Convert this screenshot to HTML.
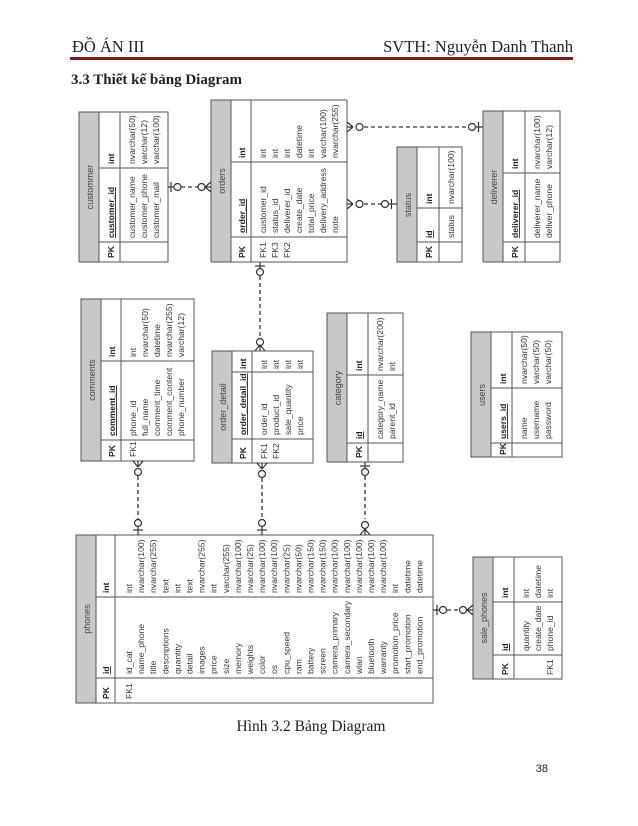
<!DOCTYPE html>
<html><head><meta charset="utf-8"><style>
html,body{margin:0;padding:0;background:#fff;}
svg{display:block;}
.t{font-family:"Liberation Sans",sans-serif;font-size:8.6px;fill:#333;}
.b{font-weight:bold;fill:#222;}
.h{font-family:"Liberation Sans",sans-serif;font-size:9px;fill:#444;}
.ln{stroke:#555;stroke-width:1;}
.c{stroke:#333;stroke-width:1.2;fill:none;}
.d{stroke:#333;stroke-width:1.3;stroke-dasharray:4,3;fill:none;}
</style></head><body>
<svg width="638" height="826" viewBox="0 0 638 826" xmlns="http://www.w3.org/2000/svg">
<text x="72" y="52" font-family="Liberation Serif,serif" font-size="16.5" fill="#222">ĐỒ ÁN III</text>
<text x="573" y="52" text-anchor="end" font-family="Liberation Serif,serif" font-size="16.5" fill="#222">SVTH: Nguyễn Danh Thanh</text>
<rect x="70" y="57" width="503" height="3" fill="#7a1c1c"/>
<text x="71" y="84" font-family="Liberation Serif,serif" font-size="15" font-weight="bold" fill="#222">3.3 Thiết kế bảng Diagram</text>

<!-- customer -->
<g transform="translate(79,262) rotate(-90)">
<rect x="0" y="0" width="150" height="89" fill="#fff" class="ln"/>
<rect x="0" y="0" width="150" height="20" fill="#c8c8c8" class="ln"/>
<line x1="0" y1="41" x2="150" y2="41" class="ln"/><line x1="20" y1="20" x2="20" y2="89" class="ln"/><line x1="94" y1="20" x2="94" y2="89" class="ln"/>
<text x="75" y="14" text-anchor="middle" class="h">custommer</text>
<text x="4" y="35" class="t b">PK</text><text x="24" y="35" class="t b" text-decoration="underline">customer_id</text><text x="98" y="35" class="t b">int</text>
<text x="24" y="56" class="t">customer_name</text><text x="98" y="56" class="t">nvarchar(50)</text>
<text x="24" y="68" class="t">customer_phone</text><text x="98" y="68" class="t">varchar(12)</text>
<text x="24" y="80" class="t">customer_mail</text><text x="98" y="80" class="t">varchar(100)</text>
</g>

<!-- orders -->
<g transform="translate(211,262) rotate(-90)">
<rect x="0" y="0" width="162" height="136" fill="#fff" class="ln"/>
<rect x="0" y="0" width="162" height="20" fill="#c8c8c8" class="ln"/>
<line x1="0" y1="40" x2="162" y2="40" class="ln"/><line x1="25" y1="20" x2="25" y2="136" class="ln"/><line x1="100" y1="20" x2="100" y2="136" class="ln"/>
<text x="81" y="14" text-anchor="middle" class="h">orders</text>
<text x="4" y="34" class="t b">PK</text><text x="29" y="34" class="t b" text-decoration="underline">order_id</text><text x="104" y="34" class="t b">int</text>
<text x="4" y="55" class="t">FK1</text><text x="29" y="55" class="t">customer_id</text><text x="104" y="55" class="t">int</text>
<text x="4" y="67" class="t">FK3</text><text x="29" y="67" class="t">status_id</text><text x="104" y="67" class="t">int</text>
<text x="4" y="79" class="t">FK2</text><text x="29" y="79" class="t">deliverer_id</text><text x="104" y="79" class="t">int</text>
<text x="29" y="91" class="t">create_date</text><text x="104" y="91" class="t">datetime</text>
<text x="29" y="103" class="t">total_price</text><text x="104" y="103" class="t">int</text>
<text x="29" y="115" class="t">delivery_address</text><text x="104" y="115" class="t">varchar(100)</text>
<text x="29" y="127" class="t">note</text><text x="104" y="127" class="t">nvarchar(255)</text>
</g>

<!-- status -->
<g transform="translate(397,262) rotate(-90)">
<rect x="0" y="0" width="115" height="65" fill="#fff" class="ln"/>
<rect x="0" y="0" width="115" height="20" fill="#c8c8c8" class="ln"/>
<line x1="0" y1="42" x2="115" y2="42" class="ln"/><line x1="20" y1="20" x2="20" y2="65" class="ln"/><line x1="54" y1="20" x2="54" y2="65" class="ln"/>
<text x="57" y="14" text-anchor="middle" class="h">status</text>
<text x="4" y="35" class="t b">PK</text><text x="24" y="35" class="t b" text-decoration="underline">id</text><text x="58" y="35" class="t b">int</text>
<text x="24" y="57" class="t">status</text><text x="58" y="57" class="t">nvarchar(100)</text>
</g>

<!-- deliverer -->
<g transform="translate(483,262) rotate(-90)">
<rect x="0" y="0" width="151" height="77" fill="#fff" class="ln"/>
<rect x="0" y="0" width="151" height="20" fill="#c8c8c8" class="ln"/>
<line x1="0" y1="42" x2="151" y2="42" class="ln"/><line x1="20" y1="20" x2="20" y2="77" class="ln"/><line x1="89" y1="20" x2="89" y2="77" class="ln"/>
<text x="75" y="14" text-anchor="middle" class="h">deliverer</text>
<text x="4" y="35" class="t b">PK</text><text x="24" y="35" class="t b" text-decoration="underline">deliverer_id</text><text x="93" y="35" class="t b">int</text>
<text x="24" y="57" class="t">deliverer_name</text><text x="93" y="57" class="t">nvarchar(100)</text>
<text x="24" y="69" class="t">deliver_phone</text><text x="93" y="69" class="t">varchar(12)</text>
</g>

<!-- comments -->
<g transform="translate(81,461) rotate(-90)">
<rect x="0" y="0" width="162" height="113" fill="#fff" class="ln"/>
<rect x="0" y="0" width="162" height="20" fill="#c8c8c8" class="ln"/>
<line x1="0" y1="40" x2="162" y2="40" class="ln"/><line x1="21" y1="20" x2="21" y2="113" class="ln"/><line x1="100" y1="20" x2="100" y2="113" class="ln"/>
<text x="81" y="14" text-anchor="middle" class="h">comments</text>
<text x="4" y="34" class="t b">PK</text><text x="25" y="34" class="t b" text-decoration="underline">comment_id</text><text x="104" y="34" class="t b">int</text>
<text x="4" y="55" class="t">FK1</text><text x="25" y="55" class="t">phone_id</text><text x="104" y="55" class="t">int</text>
<text x="25" y="67" class="t">full_name</text><text x="104" y="67" class="t">nvarchar(50)</text>
<text x="25" y="79" class="t">comment_time</text><text x="104" y="79" class="t">datetime</text>
<text x="25" y="91" class="t">comment_content</text><text x="104" y="91" class="t">nvarchar(255)</text>
<text x="25" y="103" class="t">phone_number</text><text x="104" y="103" class="t">varchar(12)</text>
</g>

<!-- order_detail -->
<g transform="translate(212,463) rotate(-90)">
<rect x="0" y="0" width="112" height="101" fill="#fff" class="ln"/>
<rect x="0" y="0" width="112" height="20" fill="#c8c8c8" class="ln"/>
<line x1="0" y1="40" x2="112" y2="40" class="ln"/><line x1="24" y1="20" x2="24" y2="101" class="ln"/><line x1="91" y1="20" x2="91" y2="101" class="ln"/>
<text x="56" y="14" text-anchor="middle" class="h">order_detail</text>
<text x="4" y="34" class="t b">PK</text><text x="28" y="34" class="t b" text-decoration="underline">order_detail_id</text><text x="94" y="34" class="t b">int</text>
<text x="4" y="55" class="t">FK1</text><text x="28" y="55" class="t">order_id</text><text x="94" y="55" class="t">int</text>
<text x="4" y="67" class="t">FK2</text><text x="28" y="67" class="t">product_id</text><text x="94" y="67" class="t">int</text>
<text x="28" y="79" class="t">sale_quantity</text><text x="94" y="79" class="t">int</text>
<text x="28" y="91" class="t">price</text><text x="94" y="91" class="t">int</text>
</g>

<!-- category -->
<g transform="translate(327,462) rotate(-90)">
<rect x="0" y="0" width="149" height="76" fill="#fff" class="ln"/>
<rect x="0" y="0" width="149" height="20" fill="#c8c8c8" class="ln"/>
<line x1="0" y1="41" x2="149" y2="41" class="ln"/><line x1="19" y1="20" x2="19" y2="76" class="ln"/><line x1="87" y1="20" x2="87" y2="76" class="ln"/>
<text x="74" y="14" text-anchor="middle" class="h">category</text>
<text x="4" y="35" class="t b">PK</text><text x="23" y="35" class="t b" text-decoration="underline">id</text><text x="91" y="35" class="t b">int</text>
<text x="23" y="56" class="t">category_name</text><text x="91" y="56" class="t">nvarchar(200)</text>
<text x="23" y="68" class="t">parent_id</text><text x="91" y="68" class="t">int</text>
</g>

<!-- users -->
<g transform="translate(471,457) rotate(-90)">
<rect x="0" y="0" width="125" height="91" fill="#fff" class="ln"/>
<rect x="0" y="0" width="125" height="20" fill="#c8c8c8" class="ln"/>
<line x1="0" y1="41" x2="125" y2="41" class="ln"/><line x1="14" y1="20" x2="14" y2="91" class="ln"/><line x1="69" y1="20" x2="69" y2="91" class="ln"/>
<text x="62" y="14" text-anchor="middle" class="h">users</text>
<text x="2" y="35" class="t b">PK</text><text x="18" y="35" class="t b" text-decoration="underline">users_id</text><text x="73" y="35" class="t b">int</text>
<text x="18" y="56" class="t">name</text><text x="73" y="56" class="t">nvarchar(50)</text>
<text x="18" y="68" class="t">username</text><text x="73" y="68" class="t">varchar(50)</text>
<text x="18" y="80" class="t">password</text><text x="73" y="80" class="t">varchar(50)</text>
</g>

<!-- phones -->
<g transform="translate(76,703) rotate(-90)">
<rect x="0" y="0" width="168" height="357" fill="#fff" class="ln"/>
<rect x="0" y="0" width="168" height="20" fill="#c8c8c8" class="ln"/>
<line x1="0" y1="39" x2="168" y2="39" class="ln"/><line x1="25" y1="20" x2="25" y2="357" class="ln"/><line x1="106" y1="20" x2="106" y2="357" class="ln"/>
<text x="84" y="14" text-anchor="middle" class="h">phones</text>
<text x="4" y="33" class="t b">PK</text><text x="29" y="33" class="t b" text-decoration="underline">id</text><text x="110" y="33" class="t b">int</text>
<text x="4" y="56" class="t">FK1</text>
<text x="29" y="56" class="t">id_cat</text><text x="110" y="56" class="t">int</text>
<text x="29" y="68.1" class="t">name_phone</text><text x="110" y="68.1" class="t">nvarchar(100)</text>
<text x="29" y="80.2" class="t">title</text><text x="110" y="80.2" class="t">nvarchar(255)</text>
<text x="29" y="92.3" class="t">descriptions</text><text x="110" y="92.3" class="t">text</text>
<text x="29" y="104.4" class="t">quantity</text><text x="110" y="104.4" class="t">int</text>
<text x="29" y="116.5" class="t">detail</text><text x="110" y="116.5" class="t">text</text>
<text x="29" y="128.6" class="t">images</text><text x="110" y="128.6" class="t">nvarchar(255)</text>
<text x="29" y="140.7" class="t">price</text><text x="110" y="140.7" class="t">int</text>
<text x="29" y="152.8" class="t">size</text><text x="110" y="152.8" class="t">varchar(255)</text>
<text x="29" y="164.9" class="t">memory</text><text x="110" y="164.9" class="t">nvarchar(100)</text>
<text x="29" y="177" class="t">weights</text><text x="110" y="177" class="t">nvarchar(25)</text>
<text x="29" y="189.1" class="t">color</text><text x="110" y="189.1" class="t">nvarchar(100)</text>
<text x="29" y="201.2" class="t">os</text><text x="110" y="201.2" class="t">nvarchar(100)</text>
<text x="29" y="213.3" class="t">cpu_speed</text><text x="110" y="213.3" class="t">nvarchar(25)</text>
<text x="29" y="225.4" class="t">ram</text><text x="110" y="225.4" class="t">nvarchar(50)</text>
<text x="29" y="237.5" class="t">battery</text><text x="110" y="237.5" class="t">nvarchar(150)</text>
<text x="29" y="249.6" class="t">screen</text><text x="110" y="249.6" class="t">nvarchar(150)</text>
<text x="29" y="261.7" class="t">camera_primary</text><text x="110" y="261.7" class="t">nvarchar(100)</text>
<text x="29" y="273.8" class="t">camera_secondary</text><text x="110" y="273.8" class="t">nvarchar(100)</text>
<text x="29" y="285.9" class="t">wlan</text><text x="110" y="285.9" class="t">nvarchar(100)</text>
<text x="29" y="298" class="t">bluetooth</text><text x="110" y="298" class="t">nvarchar(100)</text>
<text x="29" y="310.1" class="t">warranty</text><text x="110" y="310.1" class="t">nvarchar(100)</text>
<text x="29" y="322.2" class="t">promotion_price</text><text x="110" y="322.2" class="t">int</text>
<text x="29" y="334.3" class="t">start_promotion</text><text x="110" y="334.3" class="t">datetime</text>
<text x="29" y="346.4" class="t">end_promotion</text><text x="110" y="346.4" class="t">datetime</text>
</g>

<!-- sale_phones -->
<g transform="translate(473,679) rotate(-90)">
<rect x="0" y="0" width="122" height="89" fill="#fff" class="ln"/>
<rect x="0" y="0" width="122" height="20" fill="#c8c8c8" class="ln"/>
<line x1="0" y1="41" x2="122" y2="41" class="ln"/><line x1="24" y1="20" x2="24" y2="89" class="ln"/><line x1="77" y1="20" x2="77" y2="89" class="ln"/>
<text x="61" y="14" text-anchor="middle" class="h">sale_phones</text>
<text x="4" y="35" class="t b">PK</text><text x="28" y="35" class="t b" text-decoration="underline">id</text><text x="81" y="35" class="t b">int</text>
<text x="28" y="56" class="t">quantity</text><text x="81" y="56" class="t">int</text>
<text x="28" y="68" class="t">create_date</text><text x="81" y="68" class="t">datetime</text>
<text x="4" y="80" class="t">FK1</text><text x="28" y="80" class="t">phone_id</text><text x="81" y="80" class="t">int</text>
</g>

<!-- connectors -->
<!-- customer - orders -->
<line x1="181" y1="187" x2="198" y2="187" class="d"/>
<line x1="168" y1="187" x2="174" y2="187" class="c"/><line x1="171" y1="182" x2="171" y2="192" class="c"/><circle cx="177.5" cy="187" r="3.5" class="c"/>
<circle cx="201.5" cy="187" r="3.5" class="c"/><path d="M205 187 L211 187 M205 187 L211 182 M205 187 L211 192" class="c"/>
<!-- orders - deliverer -->
<line x1="364" y1="127" x2="468" y2="127" class="d"/>
<path d="M353 127 L347 127 M353 127 L347 122 M353 127 L347 132" class="c"/><circle cx="359.5" cy="127" r="3.5" class="c"/>
<circle cx="472" cy="127" r="3.5" class="c"/><line x1="476" y1="127" x2="483" y2="127" class="c"/><line x1="478.5" y1="122" x2="478.5" y2="132" class="c"/>
<!-- orders - status -->
<line x1="364" y1="204" x2="381" y2="204" class="d"/>
<path d="M353 204 L347 204 M353 204 L347 199 M353 204 L347 209" class="c"/><circle cx="359.5" cy="204" r="3.5" class="c"/>
<circle cx="385" cy="204" r="3.5" class="c"/><line x1="389" y1="204" x2="397" y2="204" class="c"/><line x1="391.5" y1="199" x2="391.5" y2="209" class="c"/>
<!-- orders - order_detail -->
<line x1="260" y1="276" x2="260" y2="338" class="d"/>
<line x1="260" y1="262" x2="260" y2="268" class="c"/><line x1="255" y1="266" x2="265" y2="266" class="c"/><circle cx="260" cy="272" r="3.5" class="c"/>
<circle cx="260" cy="342" r="3.5" class="c"/><path d="M260 345 L260 351 M260 345 L255 351 M260 345 L265 351" class="c"/>
<!-- comments - phones -->
<line x1="138" y1="476" x2="138" y2="519" class="d"/>
<path d="M138 467 L138 461 M138 467 L133 461 M138 467 L143 461" class="c"/><circle cx="138" cy="472" r="3.5" class="c"/>
<circle cx="138" cy="523" r="3.5" class="c"/><line x1="138" y1="527" x2="138" y2="535" class="c"/><line x1="133" y1="530" x2="143" y2="530" class="c"/>
<!-- order_detail - phones -->
<line x1="262" y1="478" x2="262" y2="519" class="d"/>
<path d="M262 469 L262 463 M262 469 L257 463 M262 469 L267 463" class="c"/><circle cx="262" cy="474" r="3.5" class="c"/>
<circle cx="262" cy="523" r="3.5" class="c"/><line x1="262" y1="527" x2="262" y2="535" class="c"/><line x1="257" y1="530" x2="267" y2="530" class="c"/>
<!-- category - phones -->
<line x1="365" y1="476" x2="365" y2="519" class="d"/>
<line x1="365" y1="462" x2="365" y2="468" class="c"/><line x1="360" y1="466" x2="370" y2="466" class="c"/><circle cx="365" cy="472" r="3.5" class="c"/>
<circle cx="365" cy="525" r="3.5" class="c"/><path d="M365 529 L365 535 M365 529 L360 535 M365 529 L370 535" class="c"/>
<!-- phones - sale_phones -->
<line x1="447" y1="610" x2="460" y2="610" class="d"/>
<line x1="433" y1="610" x2="439" y2="610" class="c"/><line x1="437" y1="605" x2="437" y2="615" class="c"/><circle cx="443" cy="610" r="3.5" class="c"/>
<circle cx="463" cy="610" r="3.5" class="c"/><path d="M467 610 L473 610 M467 610 L473 605 M467 610 L473 615" class="c"/>

<text x="311" y="731" text-anchor="middle" font-family="Liberation Serif,serif" font-size="15.5" fill="#222">Hình 3.2 Bảng Diagram</text>
<text x="548" y="772" text-anchor="end" font-family="Liberation Sans,sans-serif" font-size="11" fill="#222">38</text>
</svg>
</body></html>
